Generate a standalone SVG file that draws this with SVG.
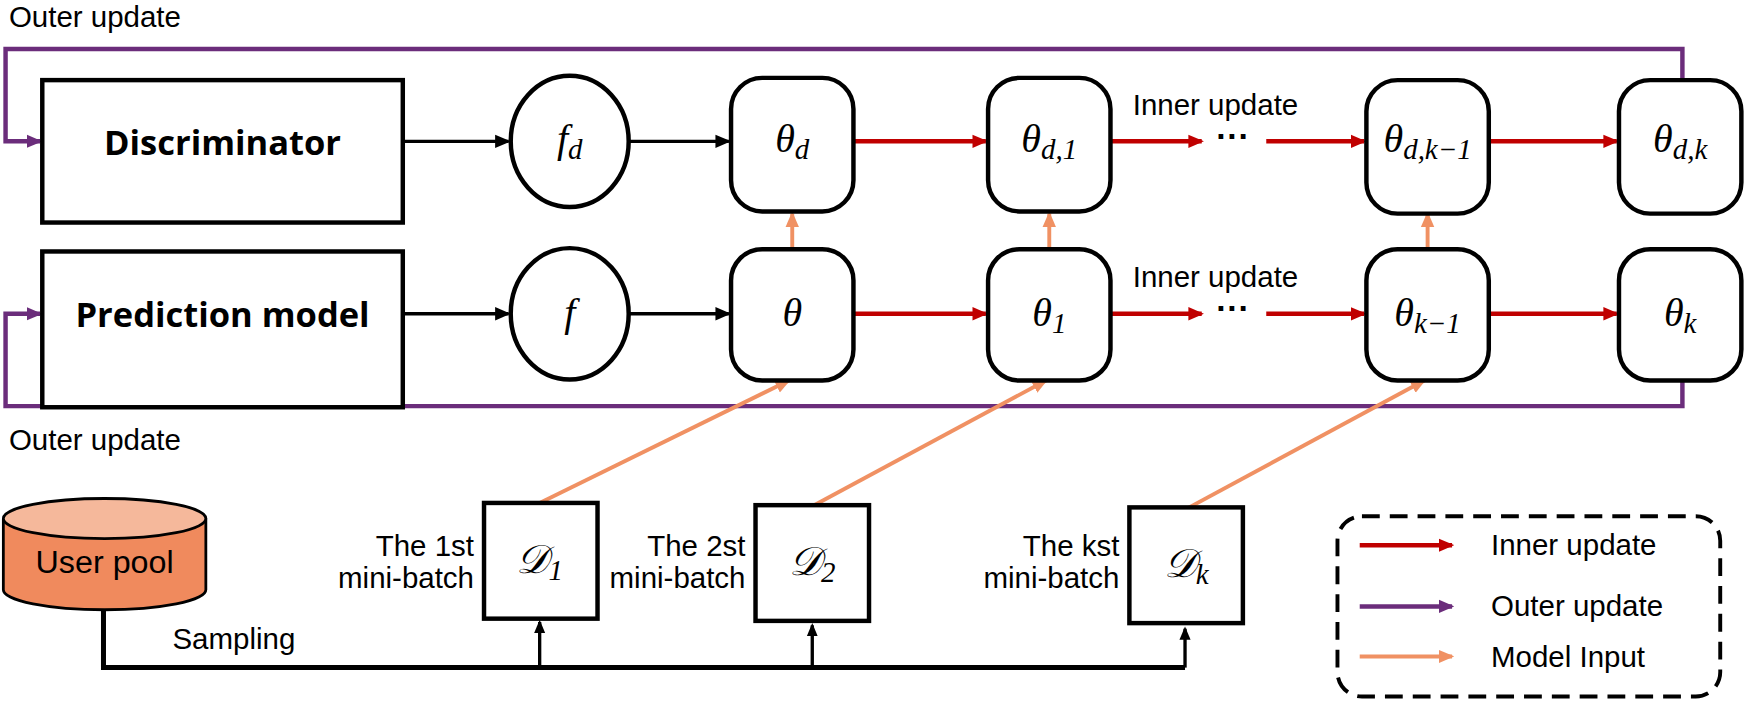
<svg xmlns="http://www.w3.org/2000/svg" width="1745" height="701" viewBox="0 0 1745 701">
<style>
.t{font-family:"Liberation Sans",Arial,sans-serif;font-size:26.5px;fill:#000}
.b{font-family:"Open Sans","Liberation Sans",sans-serif;font-weight:bold;font-size:31px;text-anchor:middle}
.m{font-family:"Liberation Serif","DejaVu Serif",serif;font-style:italic;font-size:36px;text-anchor:middle}
.s{font-size:26px}
.box{fill:#fff;stroke:#000;stroke-width:4}
.red{stroke:#c00000;stroke-width:4;fill:none}
.pur{stroke:#6b2d7b;stroke-width:4;fill:none}
.org{stroke:#f09163;stroke-width:3.5;fill:none}
.blk{stroke:#000;stroke-width:3;fill:none}
</style>
<defs>
<marker id="ar" markerWidth="14" markerHeight="14" refX="12" refY="7" orient="auto" markerUnits="userSpaceOnUse"><path d="M0,1L14,7L0,13z" fill="#c00000"/></marker>
<marker id="ap" markerWidth="14" markerHeight="14" refX="12" refY="7" orient="auto" markerUnits="userSpaceOnUse"><path d="M0,1L14,7L0,13z" fill="#6b2d7b"/></marker>
<marker id="ao" markerWidth="14" markerHeight="14" refX="12" refY="7" orient="auto" markerUnits="userSpaceOnUse"><path d="M0,1L14,7L0,13z" fill="#f09163"/></marker>
<marker id="ak" markerWidth="14" markerHeight="14" refX="12" refY="7" orient="auto" markerUnits="userSpaceOnUse"><path d="M0,1L14,7L0,13z" fill="#000"/></marker>
<marker id="ak2" markerWidth="12" markerHeight="12" refX="10" refY="6" orient="auto" markerUnits="userSpaceOnUse"><path d="M0,1L12,6L0,11z" fill="#000"/></marker>
</defs>
<g transform="scale(1.1127)">
<g id="connectors">
<path class="pur" d="M1512,72V44H5V127H36" marker-end="url(#ap)"/>
<path class="pur" d="M1512,342V365H5V282H36" marker-end="url(#ap)"/>
<path class="blk" d="M362,127H457" marker-end="url(#ak)"/>
<path class="blk" d="M362,282H457" marker-end="url(#ak)"/>
<path class="blk" d="M565,127H655" marker-end="url(#ak)"/>
<path class="blk" d="M565,282H655" marker-end="url(#ak)"/>
<path class="red" d="M767,127H886" marker-end="url(#ar)"/>
<path class="red" d="M998,127H1080" marker-end="url(#ar)"/>
<path class="red" d="M1138,127H1226" marker-end="url(#ar)"/>
<path class="red" d="M1338,127H1453" marker-end="url(#ar)"/>
<path class="red" d="M767,282H886" marker-end="url(#ar)"/>
<path class="red" d="M998,282H1080" marker-end="url(#ar)"/>
<path class="red" d="M1138,282H1226" marker-end="url(#ar)"/>
<path class="red" d="M1338,282H1453" marker-end="url(#ar)"/>
<path class="org" d="M712,224V192" marker-end="url(#ao)"/>
<path class="org" d="M943,224V192" marker-end="url(#ao)"/>
<path class="org" d="M1283,224V192" marker-end="url(#ao)"/>
<path class="org" d="M485,452L709,342" marker-end="url(#ao)"/>
<path class="org" d="M730,455L940,342" marker-end="url(#ao)"/>
<path class="org" d="M1065,458L1280,342" marker-end="url(#ao)"/>
<path d="M93,546V600H1065" fill="none" stroke="#000" stroke-width="4.5"/>
<path class="blk" stroke-width="2" d="M485,600V559" marker-end="url(#ak2)"/>
<path class="blk" stroke-width="2" d="M730,600V562" marker-end="url(#ak2)"/>
<path class="blk" stroke-width="2" d="M1065,600V565" marker-end="url(#ak2)"/>
</g>
<g id="labels">
<text class="t" x="8" y="24">Outer update</text>
<text class="t" x="8" y="404">Outer update</text>
<text class="t" x="1018" y="103">Inner update</text>
<text class="t" x="1018" y="258">Inner update</text>
<text x="1108" y="133" font-family="Liberation Sans,sans-serif" font-size="30" font-weight="bold" text-anchor="middle">···</text>
<text x="1108" y="288" font-family="Liberation Sans,sans-serif" font-size="30" font-weight="bold" text-anchor="middle">···</text>
<text class="t" x="155" y="583">Sampling</text>
</g>
<g id="discriminator"><rect class="box" x="38" y="72" width="324" height="128"/><text class="b" x="200" y="139">Discriminator</text></g>
<g id="prediction"><rect class="box" x="38" y="226" width="324" height="140"/><text class="b" x="200" y="294">Prediction model</text></g>
<g id="fd"><ellipse class="box" cx="512" cy="127" rx="53" ry="59"/><text class="m" x="512" y="137">f<tspan class="s" dy="6">d</tspan></text></g>
<g id="f"><ellipse class="box" cx="512" cy="282" rx="53" ry="59"/><text class="m" x="512" y="293">f</text></g>
<g id="theta_d"><rect class="box" x="657" y="70" width="110" height="120" rx="28"/><text class="m" x="712" y="137">θ<tspan class="s" dy="6">d</tspan></text></g>
<g id="theta_d1"><rect class="box" x="888" y="70" width="110" height="120" rx="28"/><text class="m" x="943" y="137">θ<tspan class="s" dy="6">d,1</tspan></text></g>
<g id="theta_dk1"><rect class="box" x="1228" y="72" width="110" height="120" rx="28"/><text class="m" x="1283" y="137">θ<tspan class="s" dy="6">d,k−1</tspan></text></g>
<g id="theta_dk"><rect class="box" x="1455" y="72" width="110" height="120" rx="28"/><text class="m" x="1510" y="137">θ<tspan class="s" dy="6">d,k</tspan></text></g>
<g id="theta"><rect class="box" x="657" y="224" width="110" height="118" rx="28"/><text class="m" x="712" y="293">θ</text></g>
<g id="theta1"><rect class="box" x="888" y="224" width="110" height="118" rx="28"/><text class="m" x="943" y="293">θ<tspan class="s" dy="6">1</tspan></text></g>
<g id="thetak1"><rect class="box" x="1228" y="224" width="110" height="118" rx="28"/><text class="m" x="1283" y="293">θ<tspan class="s" dy="6">k−1</tspan></text></g>
<g id="thetak"><rect class="box" x="1455" y="224" width="110" height="118" rx="28"/><text class="m" x="1510" y="293">θ<tspan class="s" dy="6">k</tspan></text></g>
<g id="userpool">
<path d="M3,466V530A91,18 0 0 0 185,530V466" fill="#f08a5d" stroke="#000" stroke-width="2.5"/>
<ellipse cx="94" cy="466" rx="91" ry="18" fill="#f5b89b" stroke="#000" stroke-width="2.5"/>
<text x="94" y="515" font-family="Liberation Sans,sans-serif" font-size="29" text-anchor="middle">User pool</text>
</g>
<g id="D1"><rect class="box" x="435" y="452" width="102" height="104"/><text class="m" x="485" y="515">𝒟<tspan class="s" dy="6">1</tspan></text>
<text class="t" x="426" y="500" font-size="22" text-anchor="end">The 1st</text><text class="t" x="426" y="528" font-size="22" text-anchor="end">mini-batch</text></g>
<g id="D2"><rect class="box" x="679" y="454" width="102" height="104"/><text class="m" x="730" y="517">𝒟<tspan class="s" dy="6">2</tspan></text>
<text class="t" x="670" y="500" font-size="22" text-anchor="end">The 2st</text><text class="t" x="670" y="528" font-size="22" text-anchor="end">mini-batch</text></g>
<g id="Dk"><rect class="box" x="1015" y="456" width="102" height="104"/><text class="m" x="1066" y="519">𝒟<tspan class="s" dy="6">k</tspan></text>
<text class="t" x="1006" y="500" font-size="22" text-anchor="end">The kst</text><text class="t" x="1006" y="528" font-size="22" text-anchor="end">mini-batch</text></g>
<g id="legend">
<rect x="1202" y="464" width="344" height="162" rx="22" fill="none" stroke="#000" stroke-width="3.5" stroke-dasharray="16,9"/>
<path class="red" d="M1222,490H1305" marker-end="url(#ar)"/>
<path class="pur" d="M1222,545H1305" marker-end="url(#ap)"/>
<path class="org" stroke-width="4" d="M1222,590H1305" marker-end="url(#ao)"/>
<text class="t" x="1340" y="499">Inner update</text>
<text class="t" x="1340" y="554">Outer update</text>
<text class="t" x="1340" y="599">Model Input</text>
</g>
</g>
</svg>
